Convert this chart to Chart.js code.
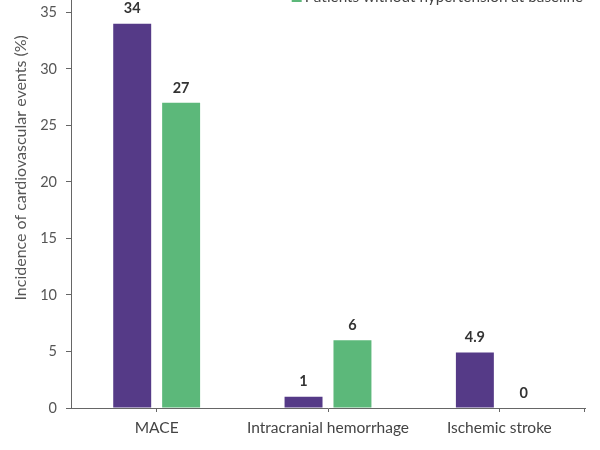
<!DOCTYPE html>
<html>
<head>
<meta charset="utf-8">
<script src="https://cdn.jsdelivr.net/npm/chart.js@4/dist/chart.umd.min.js"></script>
<style>
  html, body { margin: 0; padding: 0; background: #fff; }
  #wrap { position: relative; width: 600px; height: 450px; overflow: hidden; }
  #c { position: absolute; left: 0; top: -90px; }
</style>
</head>
<body>
<div id="wrap"><canvas id="c" width="600" height="540"></canvas></div>
<script>
const categories = ["MACE", "Intracranial hemorrhage", "Ischemic stroke"];
const seriesNames = ["Patients with hypertension at baseline", "Patients without hypertension at baseline"];
const withHypertension = [34, 1, 4.9];
const withoutHypertension = [27, 6, 0];
const yAxisTitle = "Incidence of cardiovascular events (%)";
const colors = ["#553a87", "#5cb87a"];
const FONT = "Lato, 'Noto Sans', sans-serif";

const valueLabels = {
  id: 'valueLabels',
  afterDatasetsDraw(chart) {
    const ctx = chart.ctx;
    ctx.save();
    ctx.font = "bold 14.5px " + FONT;
    ctx.fillStyle = "#333";
    ctx.textAlign = "center";
    ctx.textBaseline = "middle";
    chart.data.datasets.forEach((ds, i) => {
      const meta = chart.getDatasetMeta(i);
      meta.data.forEach((bar, j) => {
        ctx.fillText(String(ds.data[j]), bar.x, bar.y - 15);
      });
    });
    // end tick on x axis
    const a = chart.chartArea;
    ctx.strokeStyle = "#666";
    ctx.lineWidth = 1;
    ctx.beginPath();
    ctx.moveTo(a.right - 0.5, a.bottom);
    ctx.lineTo(a.right - 0.5, a.bottom + 4);
    ctx.stroke();
    ctx.restore();
  }
};

const customLegend = {
  id: 'customLegend',
  afterDraw(chart) {
    const ctx = chart.ctx;
    ctx.save();
    ctx.font = "15.3px " + FONT;
    ctx.textBaseline = "middle";
    ctx.textAlign = "left";
    const right = chart.chartArea.right - 2;
    const baseY = 87;
    chart.data.datasets.forEach((ds, i) => {
      const y = baseY - (chart.data.datasets.length - 1 - i) * 20;
      const w = ctx.measureText(ds.label).width;
      const tx = right - w;
      ctx.fillStyle = ds.backgroundColor;
      ctx.fillRect(tx - 13, y - 5, 10, 10);
      ctx.fillStyle = "#444";
      ctx.fillText(ds.label, tx, y);
    });
    ctx.restore();
  }
};

new Chart(document.getElementById('c'), {
  type: 'bar',
  data: {
    labels: categories,
    datasets: [
      { label: seriesNames[0], data: withHypertension, backgroundColor: colors[0], borderWidth: 0,
        categoryPercentage: 0.571, barPercentage: 0.776 },
      { label: seriesNames[1], data: withoutHypertension, backgroundColor: colors[1], borderWidth: 0,
        categoryPercentage: 0.571, barPercentage: 0.776 }
    ]
  },
  options: {
    responsive: false,
    animation: false,
    layout: { padding: { top: 17, right: 15, bottom: 0, left: 0 } },
    plugins: { legend: { display: false }, tooltip: { enabled: false } },
    scales: {
      x: {
        offset: true,
        grid: { drawOnChartArea: false, offset: false, tickLength: 4, color: "#666" },
        border: { color: "#666", width: 1 },
        ticks: { font: { family: FONT, size: 15.5 }, color: "#444", padding: 7 },
        afterFit(scale) { scale.height = 42; }
      },
      y: {
        min: 0, max: 42.5,
        grid: { drawOnChartArea: false, tickLength: 5, color: "#666" },
        border: { color: "#666", width: 1 },
        ticks: {
          stepSize: 5, padding: 9, color: "#555",
          font: { family: FONT, size: 14.5 },
          callback: (v) => (v % 5 === 0 ? v : '')
        },
        title: { display: true, text: yAxisTitle, color: "#555",
          font: { family: FONT, size: 16 }, padding: { top: 11, bottom: 0 } },
        afterFit(scale) { scale.width = 71; }
      }
    }
  },
  plugins: [valueLabels, customLegend]
});
</script>
</body>
</html>
